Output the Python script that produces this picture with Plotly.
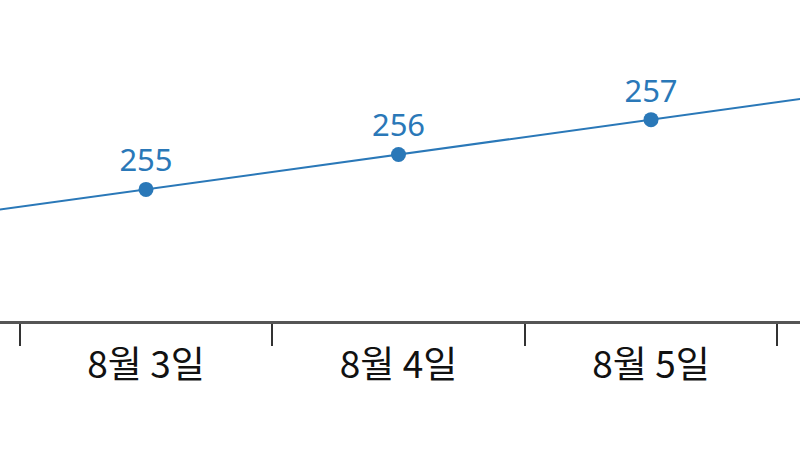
import plotly.graph_objects as go

dates = ["8월 2일", "8월 3일", "8월 4일", "8월 5일", "8월 6일"]
counts = [254, 255, 256, 257, 258]

fig = go.Figure()
fig.add_trace(go.Scatter(
    x=dates, y=counts,
    mode="lines+markers+text",
    text=[str(v) for v in counts],
    textposition="top center",
    textfont=dict(family="Noto Sans", size=31, color="#2a78b8"),
    line=dict(color="#2a78b8", width=2),
    marker=dict(color="#2a78b8", size=15),
    showlegend=False,
))

fig.update_layout(
    width=800, height=450,
    margin=dict(l=0, r=0, t=0, b=129, autoexpand=False),
    plot_bgcolor="white", paper_bgcolor="white",
    xaxis=dict(
        type="category",
        range=[0.4218, 3.590],
        tickson="boundaries",
        ticks="outside", ticklen=22, tickwidth=2, tickcolor="#333",
        showline=True, linecolor="#555", linewidth=3,
        showgrid=False, zeroline=False,
        ticklabelstandoff=10,
        tickfont=dict(family="Noto Sans CJK KR", size=37, color="#111"),
    ),
    yaxis=dict(
        range=[251.229, 260.429],
        visible=False,
    ),
)

# page has a default 8px body margin, drop it so the chart fills the window
fig.write_html("out.html", config={"displayModeBar": False},
               post_script="document.body.style.margin='0';")
